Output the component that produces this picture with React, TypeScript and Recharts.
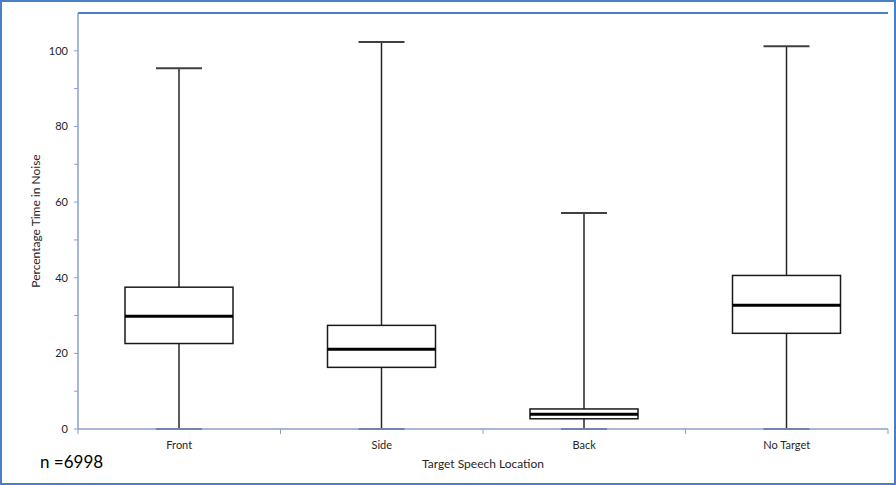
import { ComposedChart, Bar, XAxis, YAxis, ReferenceLine, Label } from "recharts";

const categories = ["Front", "Side", "Back", "No Target"];
const minValues = [0, 0, 0, 0];
const q1Values = [22.6, 16.3, 2.7, 25.3];
const medianValues = [29.8, 21.1, 3.9, 32.7];
const q3Values = [37.5, 27.4, 5.3, 40.6];
const maxValues = [95.4, 102.3, 57.1, 101.2];
const yTicks = [0, 10, 20, 30, 40, 50, 60, 70, 80, 90, 100];
const sampleSize = 6998;

const data = categories.map((name, i) => ({
  name,
  min: minValues[i],
  q1: q1Values[i],
  median: medianValues[i],
  q3: q3Values[i],
  max: maxValues[i],
  range: [minValues[i], maxValues[i]],
}));

const W = 896;
const H = 485;
const FONT = "Lato, 'Open Sans', sans-serif";
const AXIS_COLOR = "#8A9FCB";
const BORDER_BLUE = "#4A7EC8";
const BAND = 810 / categories.length;
const X_TICK_SIZE = 6;
const X_TICK_MARGIN = 6;

const BoxShape = (props: any) => {
  const { x, y, width, height, payload } = props;
  const top = Math.min(y, y + height);
  const span = Math.abs(height);
  const { min, q1, median, q3, max } = payload;
  const py = (v: number) => top + (span * (max - v)) / (max - min);
  const cx = x + width / 2;
  const cap = 23;
  return (
    <g>
      <line x1={cx} x2={cx} y1={py(max)} y2={py(q3)} stroke="#262626" strokeWidth={1.5} />
      <line x1={cx} x2={cx} y1={py(q1)} y2={py(min)} stroke="#262626" strokeWidth={1.5} />
      <line x1={cx - cap} x2={cx + cap} y1={py(max)} y2={py(max)} stroke="#404040" strokeWidth={2} />
      <line x1={cx - cap} x2={cx + cap} y1={py(min)} y2={py(min)} stroke="#1F3864" strokeWidth={2} />
      <rect
        x={x}
        y={py(q3)}
        width={width}
        height={py(q1) - py(q3)}
        fill="#ffffff"
        stroke="#1a1a1a"
        strokeWidth={1.5}
      />
      <line x1={x} x2={x + width} y1={py(median)} y2={py(median)} stroke="#000" strokeWidth={3} />
    </g>
  );
};

const XTick = (props: any) => {
  const { x, y, payload, index } = props;
  const axisY = y - X_TICK_SIZE - X_TICK_MARGIN;
  return (
    <g>
      <text x={x} y={y} dy="0.71em" textAnchor="middle" fontSize={11} fill="#262626" fontFamily={FONT}>
        {payload.value}
      </text>
      {index === 0 && (
        <line x1={x - BAND / 2} x2={x - BAND / 2} y1={axisY} y2={axisY + 5} stroke={AXIS_COLOR} />
      )}
      <line x1={x + BAND / 2} x2={x + BAND / 2} y1={axisY} y2={axisY + 5} stroke={AXIS_COLOR} />
    </g>
  );
};

const YTick = (props: any) => {
  const { x, y, payload } = props;
  if (payload.value % 20 !== 0) return <g />;
  return (
    <text x={x} y={y} dy="0.355em" textAnchor="end" fontSize={11} fill="#262626" fontFamily={FONT}>
      {payload.value}
    </text>
  );
};

export default function App() {
  return (
    <div style={{ position: "fixed", left: 0, top: 0, width: W, height: H, background: "#fff" }}>
      <ComposedChart
        width={W}
        height={H}
        data={data}
        margin={{ top: 13, right: 8, bottom: 0, left: 18 }}
      >
        <XAxis
          dataKey="name"
          type="category"
          height={56}
          tickLine={false}
          tickSize={X_TICK_SIZE}
          tickMargin={X_TICK_MARGIN}
          axisLine={{ stroke: AXIS_COLOR, strokeWidth: 1.5 }}
          tick={<XTick />}
          interval={0}
        >
          <Label
            content={({ viewBox }: any) => (
              <text
                x={viewBox.x + viewBox.width / 2}
                y={468}
                textAnchor="middle"
                fontSize={12}
                fill="#262626"
                fontFamily={FONT}
              >
                Target Speech Location
              </text>
            )}
          />
        </XAxis>
        <YAxis
          type="number"
          domain={[0, 110]}
          ticks={yTicks}
          interval={0}
          width={60}
          tickSize={4}
          tickMargin={6}
          tickLine={{ stroke: AXIS_COLOR }}
          axisLine={{ stroke: AXIS_COLOR, strokeWidth: 1.5 }}
          tick={<YTick />}
        >
          <Label
            content={({ viewBox }: any) => {
              const cx = 40;
              const cy = viewBox.y + viewBox.height / 2;
              return (
                <text
                  x={cx}
                  y={cy}
                  transform={`rotate(-90 ${cx} ${cy})`}
                  textAnchor="middle"
                  fontSize={12}
                  fill="#262626"
                  fontFamily={FONT}
                >
                  Percentage Time in Noise
                </text>
              );
            }}
          />
        </YAxis>
        <YAxis
          yAxisId="right"
          orientation="right"
          width={0}
          tick={false}
          tickLine={false}
          axisLine={{ stroke: BORDER_BLUE, strokeWidth: 2 }}
        />
        <ReferenceLine y={110} stroke={BORDER_BLUE} strokeWidth={2} />
        <Bar dataKey="range" barSize={108} shape={<BoxShape />} isAnimationActive={false} />
      </ComposedChart>
      <svg width={W} height={H} style={{ position: "absolute", left: 0, top: 0, pointerEvents: "none" }}>
        <rect x={1} y={1} width={W - 2} height={H - 2} fill="none" stroke={BORDER_BLUE} strokeWidth={2} />
        <text x={40} y={468} fontSize={17} fill="#000" fontFamily={FONT}>
          n ={sampleSize}
        </text>
      </svg>
    </div>
  );
}
